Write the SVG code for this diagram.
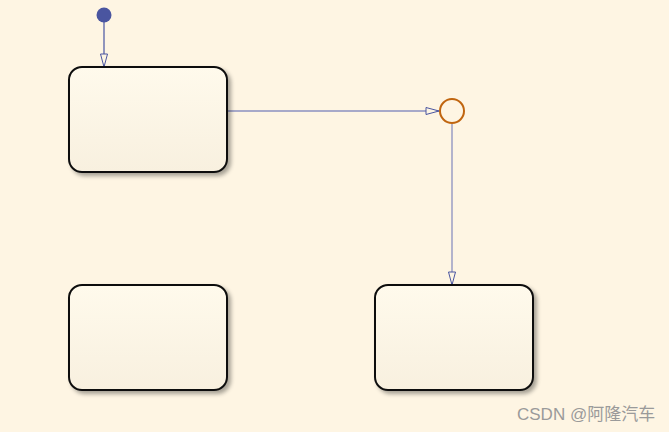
<svg xmlns="http://www.w3.org/2000/svg" width="669" height="432" viewBox="0 0 669 432">
<defs>
<linearGradient id="g" x1="0" y1="0" x2="0" y2="1">
<stop offset="0" stop-color="#fffaec"/>
<stop offset="1" stop-color="#f8f0df"/>
</linearGradient>
<filter id="sh" x="-10%" y="-10%" width="130%" height="130%">
<feGaussianBlur in="SourceAlpha" stdDeviation="2"/>
<feOffset dx="3" dy="3"/>
<feComponentTransfer><feFuncA type="linear" slope="0.35"/></feComponentTransfer>
<feMerge><feMergeNode/><feMergeNode in="SourceGraphic"/></feMerge>
</filter>
<marker id="arr" markerWidth="16" markerHeight="10" refX="14" refY="5" orient="auto" markerUnits="userSpaceOnUse">
<path d="M1,1.5 L14,5 L1,8.5 Z" fill="#fdf5e4" stroke="#4a55a0" stroke-width="1"/>
</marker>
<style>
.state{fill:url(#g);stroke:#111;stroke-width:2;filter:url(#sh)}
.conn{fill:none;stroke:#8a8fc0;stroke-width:1.3;marker-end:url(#arr)}
.wm{font-family:"Liberation Sans","Noto Sans CJK SC",sans-serif;font-size:17px;fill:#9a9a9a}
</style>
</defs>
<rect width="669" height="432" fill="#fef5e3"/>
<g id="connectors">
<path class="conn" d="M104,22 L104,67" style="stroke:#5560a8"/>
<path class="conn" d="M227,111 L439,111"/>
<path class="conn" d="M452,124 L452,285"/>
</g>
<g id="initial"><circle cx="104" cy="15" r="7.5" fill="#4a55a0"/></g>
<g id="state1"><rect class="state" x="69" y="67" width="158" height="105" rx="13"/></g>
<g id="state2"><rect class="state" x="69" y="285" width="158" height="105" rx="13"/></g>
<g id="state3"><rect class="state" x="375" y="285" width="158" height="105" rx="13"/></g>
<g id="junction"><circle cx="452" cy="111" r="12" fill="none" stroke="#c0650f" stroke-width="2"/></g>
<text class="wm" x="517" y="420">CSDN @阿隆汽车</text>
</svg>
